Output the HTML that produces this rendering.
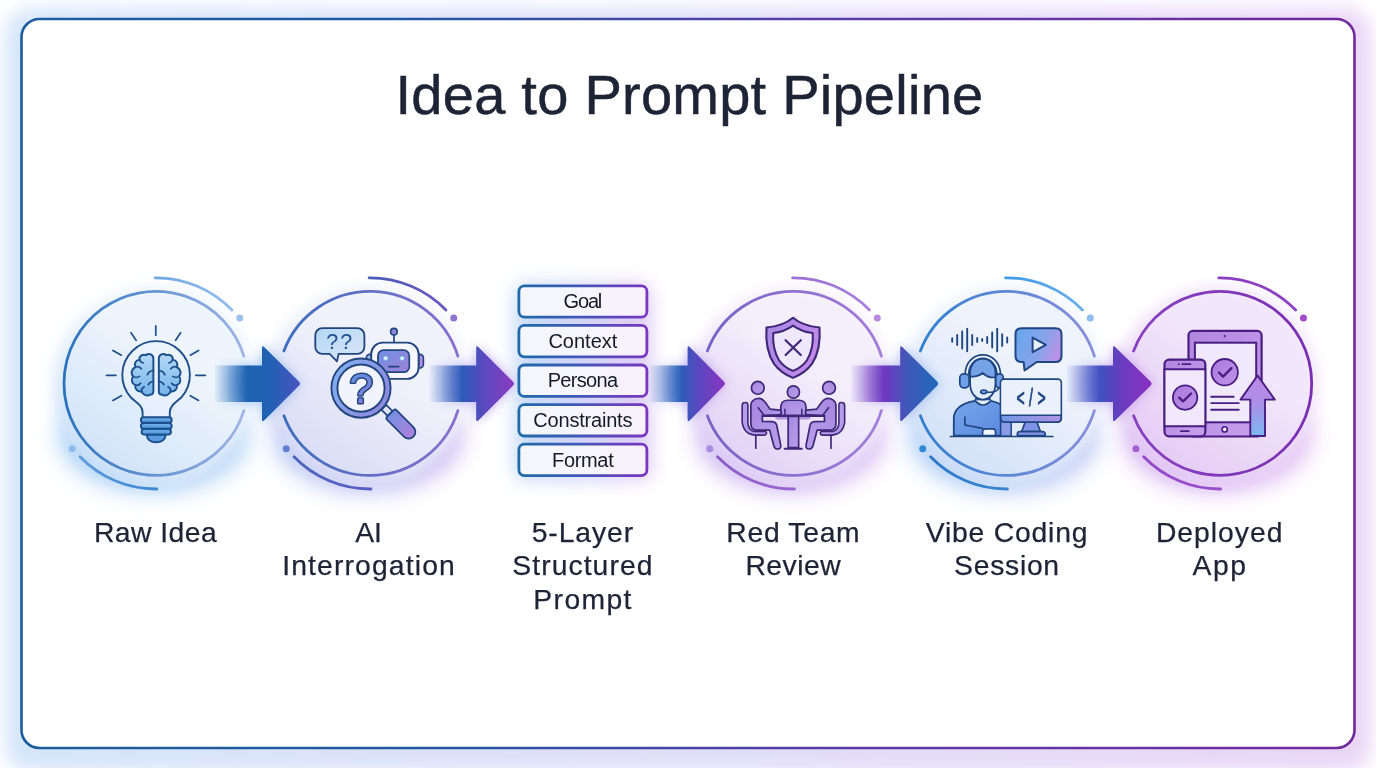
<!DOCTYPE html>
<html lang="en"><head><meta charset="utf-8"><title>Idea to Prompt Pipeline</title>
<style>
html,body{margin:0;padding:0;background:#fff;}
body{width:1376px;height:768px;overflow:hidden;font-family:"Liberation Sans",sans-serif;}
svg{display:block}
text{font-family:"Liberation Sans",sans-serif;}
</style></head><body>
<svg width="1376" height="768" viewBox="0 0 1376 768">
<defs>
<filter id="blur12" x="-10%" y="-10%" width="120%" height="120%"><feGaussianBlur stdDeviation="9"/></filter>
<filter id="blur10" x="-30%" y="-30%" width="160%" height="160%"><feGaussianBlur stdDeviation="9"/></filter>
<filter id="blur8" x="-30%" y="-30%" width="160%" height="160%"><feGaussianBlur stdDeviation="7"/></filter>
<filter id="blur6" x="-30%" y="-30%" width="160%" height="160%"><feGaussianBlur stdDeviation="6"/></filter>
<linearGradient id="gFrame" x1="0" x2="1" y1="0" y2="0"><stop offset="0" stop-color="#1b5c9e"/><stop offset="0.3" stop-color="#22579f"/><stop offset="0.6" stop-color="#5a3ca6"/><stop offset="1" stop-color="#702a9c"/></linearGradient>
<linearGradient id="gGlow" x1="0" x2="1" y1="0" y2="0"><stop offset="0" stop-color="#d5e6fa"/><stop offset="0.45" stop-color="#dfe0f8"/><stop offset="1" stop-color="#ead6f6"/></linearGradient>
<linearGradient id="gBox" x1="0" x2="1" y1="0" y2="0"><stop offset="0" stop-color="#1f6aa8"/><stop offset="0.45" stop-color="#3f5ab8"/><stop offset="1" stop-color="#7a36c0"/></linearGradient>
<linearGradient id="gBoxGlow" x1="0" x2="1" y1="0" y2="0"><stop offset="0" stop-color="#b9d4f6"/><stop offset="1" stop-color="#d9c2f5"/></linearGradient>
<!-- circle glow fills -->
<linearGradient id="gr0" gradientUnits="userSpaceOnUse" x1="64" x2="248" y1="0" y2="0"><stop offset="0" stop-color="#2b73bd"/><stop offset="1" stop-color="#a3b6e8"/></linearGradient>
<linearGradient id="gr0d"><stop offset="0" stop-color="#9cc0ee"/><stop offset="1" stop-color="#9cc0ee"/></linearGradient>
<linearGradient id="gr0d2"><stop offset="0" stop-color="#8fbcf0"/><stop offset="1" stop-color="#8fbcf0"/></linearGradient>
<linearGradient id="gr1" gradientUnits="userSpaceOnUse" x1="278" x2="462" y1="0" y2="0"><stop offset="0" stop-color="#3a6fbd"/><stop offset="1" stop-color="#8a6fcf"/></linearGradient>
<linearGradient id="gr1d"><stop offset="0" stop-color="#8f74d2"/><stop offset="1" stop-color="#8f74d2"/></linearGradient>
<linearGradient id="gr1d2"><stop offset="0" stop-color="#5f7fd2"/><stop offset="1" stop-color="#5f7fd2"/></linearGradient>
<linearGradient id="gr3" gradientUnits="userSpaceOnUse" x1="701.5" x2="885.5" y1="0" y2="0"><stop offset="0" stop-color="#7462c4"/><stop offset="1" stop-color="#a67ddb"/></linearGradient>
<linearGradient id="gr3d"><stop offset="0" stop-color="#b78ae0"/><stop offset="1" stop-color="#b78ae0"/></linearGradient>
<linearGradient id="gr3d2"><stop offset="0" stop-color="#a98be0"/><stop offset="1" stop-color="#a98be0"/></linearGradient>
<linearGradient id="gr4" gradientUnits="userSpaceOnUse" x1="914.5" x2="1098.5" y1="0" y2="0"><stop offset="0" stop-color="#2f7fd0"/><stop offset="1" stop-color="#8a8fdc"/></linearGradient>
<linearGradient id="gr4d"><stop offset="0" stop-color="#8fbcf0"/><stop offset="1" stop-color="#8fbcf0"/></linearGradient>
<linearGradient id="gr4d2"><stop offset="0" stop-color="#2f8ad8"/><stop offset="1" stop-color="#2f8ad8"/></linearGradient>
<linearGradient id="gr5" gradientUnits="userSpaceOnUse" x1="1127.7" x2="1311.7" y1="0" y2="0"><stop offset="0" stop-color="#8a42c2"/><stop offset="1" stop-color="#7a2eb2"/></linearGradient>
<linearGradient id="gr5d"><stop offset="0" stop-color="#a24ccc"/><stop offset="1" stop-color="#a24ccc"/></linearGradient>
<linearGradient id="gr5d2"><stop offset="0" stop-color="#a55fd0"/><stop offset="1" stop-color="#a55fd0"/></linearGradient>
<linearGradient id="ag0" gradientUnits="userSpaceOnUse" x1="213.6" x2="300.3" y1="0" y2="0"><stop offset="0" stop-color="#1e63b0"/><stop offset="0.4" stop-color="#1e63b0"/><stop offset="0.65" stop-color="#2060b2"/><stop offset="1" stop-color="#4b55c2"/></linearGradient>
<linearGradient id="af0" gradientUnits="userSpaceOnUse" x1="213.6" x2="247.6" y1="0" y2="0"><stop offset="0" stop-color="#fff" stop-opacity="0"/><stop offset="0.35" stop-color="#fff" stop-opacity="0.3"/><stop offset="1" stop-color="#fff" stop-opacity="1"/></linearGradient>
<mask id="am0" maskUnits="userSpaceOnUse" x="183.6" y="320" width="160" height="130"><rect x="183.6" y="320" width="160" height="130" fill="url(#af0)"/><rect x="247.6" y="320" width="130" height="130" fill="#fff"/></mask>
<linearGradient id="ag1" gradientUnits="userSpaceOnUse" x1="428.6" x2="514.3" y1="0" y2="0"><stop offset="0" stop-color="#2c5ab8"/><stop offset="0.4" stop-color="#2c5ab8"/><stop offset="0.65" stop-color="#5a49c0"/><stop offset="1" stop-color="#8c3ac0"/></linearGradient>
<linearGradient id="af1" gradientUnits="userSpaceOnUse" x1="428.6" x2="462.6" y1="0" y2="0"><stop offset="0" stop-color="#fff" stop-opacity="0"/><stop offset="0.35" stop-color="#fff" stop-opacity="0.3"/><stop offset="1" stop-color="#fff" stop-opacity="1"/></linearGradient>
<mask id="am1" maskUnits="userSpaceOnUse" x="398.6" y="320" width="160" height="130"><rect x="398.6" y="320" width="160" height="130" fill="url(#af1)"/><rect x="462.6" y="320" width="130" height="130" fill="#fff"/></mask>
<linearGradient id="ag2" gradientUnits="userSpaceOnUse" x1="648" x2="725.3" y1="0" y2="0"><stop offset="0" stop-color="#2560b8"/><stop offset="0.4" stop-color="#2560b8"/><stop offset="0.65" stop-color="#5a48c0"/><stop offset="1" stop-color="#8a34c0"/></linearGradient>
<linearGradient id="af2" gradientUnits="userSpaceOnUse" x1="648" x2="682" y1="0" y2="0"><stop offset="0" stop-color="#fff" stop-opacity="0"/><stop offset="0.35" stop-color="#fff" stop-opacity="0.3"/><stop offset="1" stop-color="#fff" stop-opacity="1"/></linearGradient>
<mask id="am2" maskUnits="userSpaceOnUse" x="618" y="320" width="160" height="130"><rect x="618" y="320" width="160" height="130" fill="url(#af2)"/><rect x="682" y="320" width="130" height="130" fill="#fff"/></mask>
<linearGradient id="ag3" gradientUnits="userSpaceOnUse" x1="850" x2="938.6" y1="0" y2="0"><stop offset="0" stop-color="#7038c0"/><stop offset="0.4" stop-color="#7038c0"/><stop offset="0.65" stop-color="#3f58b8"/><stop offset="1" stop-color="#1f6ab8"/></linearGradient>
<linearGradient id="af3" gradientUnits="userSpaceOnUse" x1="850" x2="884" y1="0" y2="0"><stop offset="0" stop-color="#fff" stop-opacity="0"/><stop offset="0.35" stop-color="#fff" stop-opacity="0.3"/><stop offset="1" stop-color="#fff" stop-opacity="1"/></linearGradient>
<mask id="am3" maskUnits="userSpaceOnUse" x="820" y="320" width="160" height="130"><rect x="820" y="320" width="160" height="130" fill="url(#af3)"/><rect x="884" y="320" width="130" height="130" fill="#fff"/></mask>
<linearGradient id="ag4" gradientUnits="userSpaceOnUse" x1="1065.8" x2="1152" y1="0" y2="0"><stop offset="0" stop-color="#3f52c0"/><stop offset="0.4" stop-color="#3f52c0"/><stop offset="0.65" stop-color="#6a3cc0"/><stop offset="1" stop-color="#8a30c0"/></linearGradient>
<linearGradient id="af4" gradientUnits="userSpaceOnUse" x1="1065.8" x2="1099.8" y1="0" y2="0"><stop offset="0" stop-color="#fff" stop-opacity="0"/><stop offset="0.35" stop-color="#fff" stop-opacity="0.3"/><stop offset="1" stop-color="#fff" stop-opacity="1"/></linearGradient>
<mask id="am4" maskUnits="userSpaceOnUse" x="1035.8" y="320" width="160" height="130"><rect x="1035.8" y="320" width="160" height="130" fill="url(#af4)"/><rect x="1099.8" y="320" width="130" height="130" fill="#fff"/></mask>
<filter id="blur1" x="-5%" y="-5%" width="110%" height="110%"><feGaussianBlur stdDeviation="1.2"/></filter>
<filter id="blur14" x="-40%" y="-60%" width="180%" height="220%"><feGaussianBlur stdDeviation="12"/></filter>
<linearGradient id="gi0" x1="0.85" x2="0.25" y1="0.1" y2="0.95"><stop offset="0" stop-color="#edf4fc"/><stop offset="0.35" stop-color="#edf4fc"/><stop offset="1" stop-color="#cfe2f8"/></linearGradient>
<linearGradient id="gi1" x1="0.85" x2="0.25" y1="0.1" y2="0.95"><stop offset="0" stop-color="#f0f2fb"/><stop offset="0.35" stop-color="#f0f2fb"/><stop offset="1" stop-color="#d9dbf5"/></linearGradient>
<linearGradient id="gi3" x1="0.85" x2="0.25" y1="0.1" y2="0.95"><stop offset="0" stop-color="#f4effb"/><stop offset="0.35" stop-color="#f4effb"/><stop offset="1" stop-color="#e0d0f5"/></linearGradient>
<linearGradient id="gi4" x1="0.85" x2="0.25" y1="0.1" y2="0.95"><stop offset="0" stop-color="#eef3fc"/><stop offset="0.35" stop-color="#eef3fc"/><stop offset="1" stop-color="#d0dff7"/></linearGradient>
<linearGradient id="gi5" x1="0.85" x2="0.25" y1="0.1" y2="0.95"><stop offset="0" stop-color="#f2e6fa"/><stop offset="0.35" stop-color="#f2e6fa"/><stop offset="1" stop-color="#e3caf4"/></linearGradient>
<linearGradient id="gg0" x1="0" x2="1" y1="0" y2="0"><stop offset="0" stop-color="#98c6f5"/><stop offset="1" stop-color="#a4ccf6"/></linearGradient>
<linearGradient id="gg1" x1="0" x2="1" y1="0" y2="0"><stop offset="0" stop-color="#a8c0f3"/><stop offset="1" stop-color="#c6acf0"/></linearGradient>
<linearGradient id="gg3" x1="0" x2="1" y1="0" y2="0"><stop offset="0" stop-color="#c4aef0"/><stop offset="1" stop-color="#d4b2f1"/></linearGradient>
<linearGradient id="gg4" x1="0" x2="1" y1="0" y2="0"><stop offset="0" stop-color="#9cc6f5"/><stop offset="1" stop-color="#b4bef3"/></linearGradient>
<linearGradient id="gg5" x1="0" x2="1" y1="0" y2="0"><stop offset="0" stop-color="#d2acf0"/><stop offset="1" stop-color="#deb2f1"/></linearGradient>
<linearGradient id="agl0" gradientUnits="userSpaceOnUse" x1="213.6" x2="300.3" y1="0" y2="0"><stop offset="0" stop-color="#8cc0f4"/><stop offset="1" stop-color="#9ab8f2"/></linearGradient>
<linearGradient id="agl1" gradientUnits="userSpaceOnUse" x1="428.6" x2="514.3" y1="0" y2="0"><stop offset="0" stop-color="#a0b4f2"/><stop offset="1" stop-color="#c89cee"/></linearGradient>
<linearGradient id="agl2" gradientUnits="userSpaceOnUse" x1="648" x2="725.3" y1="0" y2="0"><stop offset="0" stop-color="#a2b4f2"/><stop offset="1" stop-color="#cc9cee"/></linearGradient>
<linearGradient id="agl3" gradientUnits="userSpaceOnUse" x1="850" x2="938.6" y1="0" y2="0"><stop offset="0" stop-color="#c4a0ee"/><stop offset="1" stop-color="#90bcf2"/></linearGradient>
<linearGradient id="agl4" gradientUnits="userSpaceOnUse" x1="1065.8" x2="1152" y1="0" y2="0"><stop offset="0" stop-color="#a8acf0"/><stop offset="1" stop-color="#d098ec"/></linearGradient>
<linearGradient id="gBoxFill" x1="0" x2="1" y1="0" y2="0"><stop offset="0" stop-color="#f3f7fd"/><stop offset="0.5" stop-color="#f6f5fc"/><stop offset="1" stop-color="#f8f1fc"/></linearGradient>
<linearGradient id="gr0o" gradientUnits="userSpaceOnUse" x1="156" x2="234" y1="0" y2="0"><stop offset="0" stop-color="#6fa8e4"/><stop offset="1" stop-color="#93beee"/></linearGradient>
<linearGradient id="gr0o2" gradientUnits="userSpaceOnUse" x1="78" x2="156" y1="0" y2="0"><stop offset="0" stop-color="#5f9cdc"/><stop offset="1" stop-color="#3f88d4"/></linearGradient>
<linearGradient id="gr1o" gradientUnits="userSpaceOnUse" x1="370" x2="448" y1="0" y2="0"><stop offset="0" stop-color="#4a5cb8"/><stop offset="1" stop-color="#6c58c2"/></linearGradient>
<linearGradient id="gr1o2" gradientUnits="userSpaceOnUse" x1="292" x2="370" y1="0" y2="0"><stop offset="0" stop-color="#4a64bc"/><stop offset="1" stop-color="#5a5ec4"/></linearGradient>
<linearGradient id="gr3o" gradientUnits="userSpaceOnUse" x1="793.5" x2="871.5" y1="0" y2="0"><stop offset="0" stop-color="#9a70d4"/><stop offset="1" stop-color="#aa82de"/></linearGradient>
<linearGradient id="gr3o2" gradientUnits="userSpaceOnUse" x1="715.5" x2="793.5" y1="0" y2="0"><stop offset="0" stop-color="#8a5cc8"/><stop offset="1" stop-color="#9a68d0"/></linearGradient>
<linearGradient id="gr4o" gradientUnits="userSpaceOnUse" x1="1006.5" x2="1084.5" y1="0" y2="0"><stop offset="0" stop-color="#3f98e6"/><stop offset="1" stop-color="#6cb0ee"/></linearGradient>
<linearGradient id="gr4o2" gradientUnits="userSpaceOnUse" x1="928.5" x2="1006.5" y1="0" y2="0"><stop offset="0" stop-color="#2a78c8"/><stop offset="1" stop-color="#3a86d2"/></linearGradient>
<linearGradient id="gr5o" gradientUnits="userSpaceOnUse" x1="1219.7" x2="1297.7" y1="0" y2="0"><stop offset="0" stop-color="#8a3cc0"/><stop offset="1" stop-color="#9042c4"/></linearGradient>
<linearGradient id="gr5o2" gradientUnits="userSpaceOnUse" x1="1141.7" x2="1219.7" y1="0" y2="0"><stop offset="0" stop-color="#9448c8"/><stop offset="1" stop-color="#9a50cc"/></linearGradient>
</defs>
<g opacity="0.999">
<rect width="1376" height="768" fill="#fff"/>
<rect x="5" y="8" width="1366" height="764" rx="26" fill="url(#gGlow)" filter="url(#blur12)"/>
<rect x="21.5" y="19" width="1333" height="729" rx="18" fill="#fff" stroke="url(#gFrame)" stroke-width="2.6"/>
<text x="689.5" y="113.5" text-anchor="middle" font-size="56" letter-spacing="0.25" fill="#1d2436" stroke="#1d2436" stroke-width="0.5" id="title">Idea to Prompt Pipeline</text>
<ellipse cx="154" cy="435.4" rx="93" ry="55" fill="url(#gg0)" filter="url(#blur14)" opacity="0.95"/>
<circle cx="154" cy="386.4" r="101" fill="url(#gi0)" filter="url(#blur8)"/>
<ellipse cx="368" cy="435.4" rx="93" ry="55" fill="url(#gg1)" filter="url(#blur14)" opacity="0.95"/>
<circle cx="368" cy="386.4" r="101" fill="url(#gi1)" filter="url(#blur8)"/>
<ellipse cx="791.5" cy="435.4" rx="93" ry="55" fill="url(#gg3)" filter="url(#blur14)" opacity="0.95"/>
<circle cx="791.5" cy="386.4" r="101" fill="url(#gi3)" filter="url(#blur8)"/>
<ellipse cx="1004.5" cy="435.4" rx="93" ry="55" fill="url(#gg4)" filter="url(#blur14)" opacity="0.95"/>
<circle cx="1004.5" cy="386.4" r="101" fill="url(#gi4)" filter="url(#blur8)"/>
<ellipse cx="1217.7" cy="435.4" rx="93" ry="55" fill="url(#gg5)" filter="url(#blur14)" opacity="0.95"/>
<circle cx="1217.7" cy="386.4" r="101" fill="url(#gi5)" filter="url(#blur8)"/>
<rect x="514" y="283" width="138" height="198" rx="12" fill="url(#gBoxGlow)" filter="url(#blur10)" opacity="0.8"/>
<path d="M243.89 410.61A92 92 0 1 1 243.89 356.19" fill="none" stroke="url(#gr0)" stroke-width="2.8" stroke-linecap="round"/>
<path d="M155.08 277.80A105.6 105.6 0 0 1 231.96 310.04" fill="none" stroke="url(#gr0o)" stroke-width="2.8" stroke-linecap="round"/>
<path d="M156.92 489.00A105.6 105.6 0 0 1 80.04 456.76" fill="none" stroke="url(#gr0o2)" stroke-width="2.8" stroke-linecap="round"/>
<circle cx="239.77" cy="317.96" r="3.5" fill="url(#gr0d)"/>
<circle cx="72.23" cy="448.84" r="3.5" fill="url(#gr0d2)"/>
<path d="M283.88 351.03A92 92 0 0 1 457.89 356.19" fill="none" stroke="url(#gr1)" stroke-width="2.8" stroke-linecap="round"/>
<path d="M457.89 410.61A92 92 0 0 1 283.88 415.77" fill="none" stroke="url(#gr1)" stroke-width="2.8" stroke-linecap="round"/>
<path d="M369.08 277.80A105.6 105.6 0 0 1 445.96 310.04" fill="none" stroke="url(#gr1o)" stroke-width="2.8" stroke-linecap="round"/>
<path d="M370.92 489.00A105.6 105.6 0 0 1 294.04 456.76" fill="none" stroke="url(#gr1o2)" stroke-width="2.8" stroke-linecap="round"/>
<circle cx="453.77" cy="317.96" r="3.5" fill="url(#gr1d)"/>
<circle cx="286.23" cy="448.84" r="3.5" fill="url(#gr1d2)"/>
<path d="M707.38 351.03A92 92 0 0 1 881.39 356.19" fill="none" stroke="url(#gr3)" stroke-width="2.8" stroke-linecap="round"/>
<path d="M881.39 410.61A92 92 0 0 1 707.38 415.77" fill="none" stroke="url(#gr3)" stroke-width="2.8" stroke-linecap="round"/>
<path d="M792.58 277.80A105.6 105.6 0 0 1 869.46 310.04" fill="none" stroke="url(#gr3o)" stroke-width="2.8" stroke-linecap="round"/>
<path d="M794.42 489.00A105.6 105.6 0 0 1 717.54 456.76" fill="none" stroke="url(#gr3o2)" stroke-width="2.8" stroke-linecap="round"/>
<circle cx="877.27" cy="317.96" r="3.5" fill="url(#gr3d)"/>
<circle cx="709.73" cy="448.84" r="3.5" fill="url(#gr3d2)"/>
<path d="M920.38 351.03A92 92 0 0 1 1094.39 356.19" fill="none" stroke="url(#gr4)" stroke-width="2.8" stroke-linecap="round"/>
<path d="M1094.39 410.61A92 92 0 0 1 920.38 415.77" fill="none" stroke="url(#gr4)" stroke-width="2.8" stroke-linecap="round"/>
<path d="M1005.58 277.80A105.6 105.6 0 0 1 1082.46 310.04" fill="none" stroke="url(#gr4o)" stroke-width="2.8" stroke-linecap="round"/>
<path d="M1007.42 489.00A105.6 105.6 0 0 1 930.54 456.76" fill="none" stroke="url(#gr4o2)" stroke-width="2.8" stroke-linecap="round"/>
<circle cx="1090.27" cy="317.96" r="3.5" fill="url(#gr4d)"/>
<circle cx="922.73" cy="448.84" r="3.5" fill="url(#gr4d2)"/>
<path d="M1133.58 351.03A92 92 0 1 1 1133.58 415.77" fill="none" stroke="url(#gr5)" stroke-width="2.8" stroke-linecap="round"/>
<path d="M1218.78 277.80A105.6 105.6 0 0 1 1295.66 310.04" fill="none" stroke="url(#gr5o)" stroke-width="2.8" stroke-linecap="round"/>
<path d="M1220.62 489.00A105.6 105.6 0 0 1 1143.74 456.76" fill="none" stroke="url(#gr5o2)" stroke-width="2.8" stroke-linecap="round"/>
<circle cx="1303.47" cy="317.96" r="3.5" fill="url(#gr5d)"/>
<circle cx="1135.93" cy="448.84" r="3.5" fill="url(#gr5d2)"/>
<g mask="url(#am0)"><path d="M213.6 365.6H262V348.0Q262 344.8 264.6 347.4L299.1 381.79999999999995Q300.90000000000003 383.7 299.1 385.59999999999997L264.6 420.1Q262 422.7 262 419.5V402.0H213.6Z" fill="url(#agl0)" filter="url(#blur6)" opacity="0.9"/></g>
<g mask="url(#am0)"><path d="M213.6 365.6H262V348.0Q262 344.8 264.6 347.4L299.1 381.79999999999995Q300.90000000000003 383.7 299.1 385.59999999999997L264.6 420.1Q262 422.7 262 419.5V402.0H213.6Z" fill="url(#ag0)"/></g>
<g mask="url(#am1)"><path d="M428.6 365.6H476.2V348.0Q476.2 344.8 478.8 347.4L513.0999999999999 381.79999999999995Q514.9 383.7 513.0999999999999 385.59999999999997L478.8 420.1Q476.2 422.7 476.2 419.5V402.0H428.6Z" fill="url(#agl1)" filter="url(#blur6)" opacity="0.9"/></g>
<g mask="url(#am1)"><path d="M428.6 365.6H476.2V348.0Q476.2 344.8 478.8 347.4L513.0999999999999 381.79999999999995Q514.9 383.7 513.0999999999999 385.59999999999997L478.8 420.1Q476.2 422.7 476.2 419.5V402.0H428.6Z" fill="url(#ag1)"/></g>
<g mask="url(#am2)"><path d="M648 365.6H687.6V348.0Q687.6 344.8 690.2 347.4L724.0999999999999 381.79999999999995Q725.9 383.7 724.0999999999999 385.59999999999997L690.2 420.1Q687.6 422.7 687.6 419.5V402.0H648Z" fill="url(#agl2)" filter="url(#blur6)" opacity="0.9"/></g>
<g mask="url(#am2)"><path d="M648 365.6H687.6V348.0Q687.6 344.8 690.2 347.4L724.0999999999999 381.79999999999995Q725.9 383.7 724.0999999999999 385.59999999999997L690.2 420.1Q687.6 422.7 687.6 419.5V402.0H648Z" fill="url(#ag2)"/></g>
<g mask="url(#am3)"><path d="M850 365.6H900.2V348.0Q900.2 344.8 902.8000000000001 347.4L937.4 381.79999999999995Q939.2 383.7 937.4 385.59999999999997L902.8000000000001 420.1Q900.2 422.7 900.2 419.5V402.0H850Z" fill="url(#agl3)" filter="url(#blur6)" opacity="0.9"/></g>
<g mask="url(#am3)"><path d="M850 365.6H900.2V348.0Q900.2 344.8 902.8000000000001 347.4L937.4 381.79999999999995Q939.2 383.7 937.4 385.59999999999997L902.8000000000001 420.1Q900.2 422.7 900.2 419.5V402.0H850Z" fill="url(#ag3)"/></g>
<g mask="url(#am4)"><path d="M1065.8 365.6H1113V348.0Q1113 344.8 1115.6 347.4L1150.8 381.79999999999995Q1152.6 383.7 1150.8 385.59999999999997L1115.6 420.1Q1113 422.7 1113 419.5V402.0H1065.8Z" fill="url(#agl4)" filter="url(#blur6)" opacity="0.9"/></g>
<g mask="url(#am4)"><path d="M1065.8 365.6H1113V348.0Q1113 344.8 1115.6 347.4L1150.8 381.79999999999995Q1152.6 383.7 1150.8 385.59999999999997L1115.6 420.1Q1113 422.7 1113 419.5V402.0H1065.8Z" fill="url(#ag4)"/></g>
<rect x="518.9" y="285.8" width="128" height="31.4" rx="5.5" fill="url(#gBoxFill)" stroke="url(#gBox)" stroke-width="2.8"/>
<text x="582.33" y="308.1" text-anchor="middle" font-size="20" letter-spacing="-1.14" fill="#161a26">Goal</text>
<rect x="518.9" y="325.4" width="128" height="31.4" rx="5.5" fill="url(#gBoxFill)" stroke="url(#gBox)" stroke-width="2.8"/>
<text x="582.90" y="347.7" text-anchor="middle" font-size="20" letter-spacing="0.01" fill="#161a26">Context</text>
<rect x="518.9" y="365.0" width="128" height="31.4" rx="5.5" fill="url(#gBoxFill)" stroke="url(#gBox)" stroke-width="2.8"/>
<text x="582.55" y="387.3" text-anchor="middle" font-size="20" letter-spacing="-0.69" fill="#161a26">Persona</text>
<rect x="518.9" y="404.6" width="128" height="31.4" rx="5.5" fill="url(#gBoxFill)" stroke="url(#gBox)" stroke-width="2.8"/>
<text x="582.79" y="426.9" text-anchor="middle" font-size="20" letter-spacing="-0.21" fill="#161a26">Constraints</text>
<rect x="518.9" y="444.2" width="128" height="31.4" rx="5.5" fill="url(#gBoxFill)" stroke="url(#gBox)" stroke-width="2.8"/>
<text x="582.73" y="466.5" text-anchor="middle" font-size="20" letter-spacing="-0.34" fill="#161a26">Format</text>
<g id="icon1">
<defs>
<linearGradient id="i1brain" x1="0" x2="0" y1="0" y2="1"><stop offset="0" stop-color="#b4d9f6"/><stop offset="1" stop-color="#74b4ea"/></linearGradient>
<linearGradient id="i1base" x1="0" x2="0" y1="0" y2="1"><stop offset="0" stop-color="#7ab6ec"/><stop offset="1" stop-color="#4a92dc"/></linearGradient>
</defs>
<path d="M155.8 325.9L155.8 335.2M131 332.7L136.1 340.3M180.6 332.7L175.6 340.3M112.9 350.5L121.4 355.2M198.6 350.5L190.3 355.2M106.5 375.3L116 375.3M195.8 375.3L205.4 375.3M112.9 400.4L121.4 395.7M198.6 400.4L190.3 395.7" stroke="#1d4f8b" stroke-width="1.7" stroke-linecap="round" fill="none"/>
<path d="M142.6 417.6V412.6C142.6 405.6 136.4 402.4 131.2 397.8A33.8 33.8 0 1 1 181 397.8C175.8 402.4 169.8 405.6 169.8 412.6V417.6" fill="#e9f3fd" fill-opacity="0.55" stroke="#1d4f8b" stroke-width="1.9" stroke-linecap="round"/>
<g transform="translate(131,0) scale(1.035,1) translate(-131,0)"><path d="M152.6 358.6 C152.6 354.6 148.2 352.6 145.4 355.2 C142.2 353.8 138.6 356.2 139.2 359.6 C135.4 360.0 133.6 364.0 135.4 367.0 C131.6 368.6 130.4 373.6 133.2 376.4 C130.6 379.0 131.6 383.8 135.2 385.2 C134.4 389.0 137.6 392.2 141.2 391.4 C142.4 395.0 146.6 396.6 149.6 394.6 C151.6 394.6 152.6 393.0 152.6 391.4 Z" fill="url(#i1brain)" stroke="#1d4f8b" stroke-width="1.9" stroke-linejoin="round"/><path d="M139.2 359.6 C139.8 361.6 141.2 362.8 143.0 363.0 M135.4 367.0 C137.6 366.2 139.8 367.0 141.0 368.8 M133.2 376.4 C135.0 377.6 137.4 377.6 139.2 376.4 M152.6 370.6 C150.0 370.8 147.8 372.2 146.8 374.6 M135.2 385.2 C137.0 385.6 139.2 384.8 140.2 383.2 M141.2 391.4 C141.0 389.4 142.0 387.6 143.8 386.8 M152.6 381.6 C150.6 381.6 148.6 382.8 147.8 384.6" fill="none" stroke="#1d4f8b" stroke-width="1.7" stroke-linecap="round"/></g><g transform="translate(312.2,0) scale(-1,1) translate(131,0) scale(1.035,1) translate(-131,0)"><path d="M152.6 358.6 C152.6 354.6 148.2 352.6 145.4 355.2 C142.2 353.8 138.6 356.2 139.2 359.6 C135.4 360.0 133.6 364.0 135.4 367.0 C131.6 368.6 130.4 373.6 133.2 376.4 C130.6 379.0 131.6 383.8 135.2 385.2 C134.4 389.0 137.6 392.2 141.2 391.4 C142.4 395.0 146.6 396.6 149.6 394.6 C151.6 394.6 152.6 393.0 152.6 391.4 Z" fill="url(#i1brain)" stroke="#1d4f8b" stroke-width="1.9" stroke-linejoin="round"/><path d="M139.2 359.6 C139.8 361.6 141.2 362.8 143.0 363.0 M135.4 367.0 C137.6 366.2 139.8 367.0 141.0 368.8 M133.2 376.4 C135.0 377.6 137.4 377.6 139.2 376.4 M152.6 370.6 C150.0 370.8 147.8 372.2 146.8 374.6 M135.2 385.2 C137.0 385.6 139.2 384.8 140.2 383.2 M141.2 391.4 C141.0 389.4 142.0 387.6 143.8 386.8 M152.6 381.6 C150.6 381.6 148.6 382.8 147.8 384.6" fill="none" stroke="#1d4f8b" stroke-width="1.7" stroke-linecap="round"/></g>
<rect x="140.9" y="417.2" width="30.8" height="5.6" rx="2.8" fill="url(#i1base)" stroke="#1d4f8b" stroke-width="1.9"/>
<rect x="140.9" y="423.1" width="30.8" height="5.6" rx="2.8" fill="url(#i1base)" stroke="#1d4f8b" stroke-width="1.9"/>
<rect x="141.6" y="429.0" width="29.4" height="5.6" rx="2.8" fill="url(#i1base)" stroke="#1d4f8b" stroke-width="1.9"/>
<path d="M146.6 434.8H165.8Q164.6 442.2 156.2 442.2Q147.8 442.2 146.6 434.8Z" fill="#5a9be2" stroke="#1d4f8b" stroke-width="1.9" stroke-linejoin="round"/>
</g>
<g id="icon2">
<defs>
<linearGradient id="i2bub" x1="0" x2="1" y1="0" y2="1"><stop offset="0" stop-color="#b4d8f4"/><stop offset="1" stop-color="#d9e6f8"/></linearGradient>
<linearGradient id="i2face" x1="0" x2="1" y1="0" y2="1"><stop offset="0" stop-color="#6d8fe2"/><stop offset="1" stop-color="#a182da"/></linearGradient>
<linearGradient id="i2ring" gradientUnits="userSpaceOnUse" x1="331" x2="392" y1="370" y2="405"><stop offset="0" stop-color="#7fb0ee"/><stop offset="1" stop-color="#9086dc"/></linearGradient>
<linearGradient id="i2q" gradientUnits="userSpaceOnUse" x1="350" x2="372" y1="372" y2="404"><stop offset="0" stop-color="#5f93e2"/><stop offset="1" stop-color="#8a7cd8"/></linearGradient>
<linearGradient id="i2hand" gradientUnits="userSpaceOnUse" x1="388" x2="412" y1="413" y2="437"><stop offset="0" stop-color="#7490e2"/><stop offset="1" stop-color="#ad80dc"/></linearGradient>
</defs>
<!-- speech bubble -->
<path d="M322.3 328.2H357.4A7 7 0 0 1 364.4 335.2V346.9A7 7 0 0 1 357.4 353.9H338.6L337 361.4L329.6 353.9H322.3A7 7 0 0 1 315.3 346.9V335.2A7 7 0 0 1 322.3 328.2Z" fill="url(#i2bub)" stroke="#22457f" stroke-width="1.8" stroke-linejoin="round"/>
<text x="340.3" y="349.2" text-anchor="middle" font-size="21.5" letter-spacing="2" fill="#21508f">??</text>
<!-- robot -->
<line x1="394" y1="334.4" x2="394" y2="342.5" stroke="#22457f" stroke-width="1.7"/>
<circle cx="393.9" cy="331.7" r="3.3" fill="#8f88da" stroke="#22457f" stroke-width="1.6"/>
<path d="M418.6 354.4H420A3.4 3.4 0 0 1 423.4 357.8V364.6A3.4 3.4 0 0 1 420 368H418.6Z" fill="#b68ce2" stroke="#22457f" stroke-width="1.6" stroke-linejoin="round"/>
<path d="M371.4 354.4H369.8A3.4 3.4 0 0 0 366.4 357.8V364.6A3.4 3.4 0 0 0 369.8 368H371.4Z" fill="#a8c4f0" stroke="#22457f" stroke-width="1.6" stroke-linejoin="round"/>
<rect x="371.2" y="342.6" width="47.4" height="36.3" rx="11.5" fill="#f6f8fd" stroke="#22457f" stroke-width="1.9"/>
<rect x="377.9" y="350.2" width="31.4" height="22" rx="5.5" fill="url(#i2face)" stroke="#22457f" stroke-width="1.7"/>
<circle cx="385.6" cy="358.3" r="2.0" fill="#e9fbff" stroke="#7fd0f0" stroke-width="0.8"/>
<circle cx="402.1" cy="358.3" r="2.0" fill="#e9fbff" stroke="#7fd0f0" stroke-width="0.8"/>
<line x1="388.9" y1="366.6" x2="398.8" y2="366.6" stroke="#22457f" stroke-width="1.7" stroke-linecap="round"/>
<!-- magnifier handle -->
<path d="M381.4 409.6L386.2 404.8L392.4 411L387.6 415.8Z" fill="#dfe6f8" stroke="#22457f" stroke-width="1.7" stroke-linejoin="round"/>
<path d="M387.0 416.8L393.6 410.2A2 2 0 0 1 396.4 410.2L413.4 427.2A6.7 6.7 0 0 1 403.9 436.7L387.0 419.6A2 2 0 0 1 387.0 416.8Z" fill="url(#i2hand)" stroke="#22457f" stroke-width="1.8" stroke-linejoin="round"/>
<!-- magnifier ring -->
<circle cx="361" cy="388.1" r="29.6" fill="url(#i2ring)" stroke="#22457f" stroke-width="1.9"/>
<circle cx="361" cy="388.1" r="23.6" fill="#f1f4fc" stroke="#22457f" stroke-width="1.9"/>
<text x="361.2" y="402.9" text-anchor="middle" font-size="43" fill="url(#i2q)" stroke="#22457f" stroke-width="3.0" stroke-linejoin="round" paint-order="stroke fill">?</text>
</g>
<g id="icon4">
<defs>
<linearGradient id="i4p" x1="0" x2="1" y1="0" y2="1"><stop offset="0" stop-color="#a487de"/><stop offset="1" stop-color="#bb9fea"/></linearGradient>
<linearGradient id="i4s" x1="0" x2="1" y1="0" y2="0.4"><stop offset="0" stop-color="#a88ae6"/><stop offset="1" stop-color="#c28ae8"/></linearGradient>
</defs>
<path d="M793.0 317.8C786.6 323.2 776.8 326.7 766.5 327.5C765.5 341.2 767.0 352.9 773.9 363.6C779.1 370.9 786.6 375.3 793.0 377.9C799.4 375.3 806.9 370.9 812.1 363.6C819.0 352.9 820.5 341.2 819.5 327.5C809.2 326.7 799.4 323.2 793.0 317.8Z" fill="url(#i4s)" stroke="#3f2878" stroke-width="2.1" stroke-linejoin="round"/>
<path d="M793.0 325.6C787.5 329.5 780.7 332.2 773.3 333.0C772.5 343.1 774.1 351.9 779.1 360.3C783.0 365.8 788.1 368.9 793.0 370.9C797.9 368.9 803.0 365.8 806.9 360.3C811.9 351.9 813.5 343.1 812.7 333.0C805.3 332.2 798.5 329.5 793.0 325.6Z" fill="#efe7fb" stroke="#3f2878" stroke-width="2.0" stroke-linejoin="round"/>
<path d="M785.6 340.2L800.8 355.0M800.8 340.2L785.6 355.0" stroke="#3f2878" stroke-width="2.2" stroke-linecap="round" fill="none"/>
<path d="M780.74 415.38V407.66Q780.74 400.74 787.47 400.24H799.34Q806.07 400.74 806.07 407.66V415.38Z" fill="url(#i4p)" stroke="#3f2878" stroke-width="1.7" stroke-linejoin="round"/>
<path d="M784.90 409.15V414.79M801.82 409.15V414.79" stroke="#3f2878" stroke-width="1.5" stroke-linecap="round" fill="none"/>
<circle cx="793.41" cy="392.03" r="6.1" fill="url(#i4p)" stroke="#3f2878" stroke-width="1.7"/>
<path d="M774.81 416.57H811.22Q810.72 419.53 807.26 419.53H778.57Q775.10 419.53 774.81 416.57Z" fill="#b294e4"/>
<path d="M788.16 416.37H798.65V447.63H788.16Z" fill="url(#i4p)" stroke="#3f2878" stroke-width="1.7" stroke-linejoin="round"/>
<path d="M784.70 448.72H801.82" stroke="#3f2878" stroke-width="2" stroke-linecap="round"/>
<path d="M744.93 402.52Q747.89 401.92 747.89 405.19L747.89 422.50Q747.89 429.43 753.83 431.41L764.71 431.41Q766.69 431.61 766.50 433.39Q766.30 435.17 764.22 435.17L754.82 435.17Q743.94 434.38 742.16 422.50L742.16 405.68Q742.16 402.71 744.93 402.52Z" fill="#b79cea" stroke="#3f2878" stroke-width="1.6" stroke-linejoin="round"/><path d="M755.81 435.36V448.23" fill="none" stroke="#3f2878" stroke-width="1.7" stroke-linecap="round"/><path d="M750.86 405.68C750.86 400.24 755.81 397.96 760.26 398.56C763.23 398.95 765.21 401.92 767.68 405.68L770.16 409.15L779.56 410.13Q781.53 410.43 781.34 412.61Q781.14 414.79 779.06 414.79L763.92 415.38L762.34 415.58L762.34 421.51L772.13 421.71Q776.09 422.01 776.79 425.47L780.74 445.26Q781.14 448.82 777.77 449.02Q774.81 449.02 773.82 445.75L769.66 430.22L756.80 430.22Q750.86 429.92 750.86 423.49Z" fill="url(#i4p)" stroke="#3f2878" stroke-width="1.7" stroke-linejoin="round"/><path d="M758.28 407.66L763.92 415.18" fill="none" stroke="#3f2878" stroke-width="1.6" stroke-linecap="round"/><circle cx="757.79" cy="387.87" r="6.4" fill="url(#i4p)" stroke="#3f2878" stroke-width="1.7"/>
<g transform="translate(1586.81,0) scale(-1,1)"><path d="M744.93 402.52Q747.89 401.92 747.89 405.19L747.89 422.50Q747.89 429.43 753.83 431.41L764.71 431.41Q766.69 431.61 766.50 433.39Q766.30 435.17 764.22 435.17L754.82 435.17Q743.94 434.38 742.16 422.50L742.16 405.68Q742.16 402.71 744.93 402.52Z" fill="#b79cea" stroke="#3f2878" stroke-width="1.6" stroke-linejoin="round"/><path d="M755.81 435.36V448.23" fill="none" stroke="#3f2878" stroke-width="1.7" stroke-linecap="round"/><path d="M750.86 405.68C750.86 400.24 755.81 397.96 760.26 398.56C763.23 398.95 765.21 401.92 767.68 405.68L770.16 409.15L779.56 410.13Q781.53 410.43 781.34 412.61Q781.14 414.79 779.06 414.79L763.92 415.38L762.34 415.58L762.34 421.51L772.13 421.71Q776.09 422.01 776.79 425.47L780.74 445.26Q781.14 448.82 777.77 449.02Q774.81 449.02 773.82 445.75L769.66 430.22L756.80 430.22Q750.86 429.92 750.86 423.49Z" fill="url(#i4p)" stroke="#3f2878" stroke-width="1.7" stroke-linejoin="round"/><path d="M758.28 407.66L763.92 415.18" fill="none" stroke="#3f2878" stroke-width="1.6" stroke-linecap="round"/><circle cx="757.79" cy="387.87" r="6.4" fill="url(#i4p)" stroke="#3f2878" stroke-width="1.7"/></g>
<path d="M762.74 415.97H824.08" stroke="#3f2878" stroke-width="1.9" stroke-linecap="round"/>
</g>
<g id="icon5">
<defs>
<linearGradient id="i5bub" x1="0" x2="1" y1="0.3" y2="0.7"><stop offset="0" stop-color="#6aa6ec"/><stop offset="0.5" stop-color="#86a4ea"/><stop offset="1" stop-color="#c48ee6"/></linearGradient>
<linearGradient id="i5body" x1="0" x2="1" y1="0" y2="1"><stop offset="0" stop-color="#79a8ea"/><stop offset="1" stop-color="#5a88e0"/></linearGradient>
<linearGradient id="i5chin" x1="0" x2="1" y1="0" y2="0"><stop offset="0" stop-color="#6f96e6"/><stop offset="1" stop-color="#b294e4"/></linearGradient>
</defs>
<path d="M952.2 338.3V341.7M957.2 334.9V345.1M962.2 331.4V348.6M967.2 328.7V351.3M972.2 334.9V345.1M977.2 338.0V342.0M982.2 339.0V341.0M987.2 337.0V343.0M992.2 332.4V347.6M997.2 328.7V351.3M1002.2 334.1V345.9M1007.2 337.5V342.5" stroke="#1f4680" stroke-width="1.9" stroke-linecap="round" fill="none"/>
<!-- play bubble -->
<path d="M1021.6 328.2H1055.4Q1061.5 328.2 1061.5 334.2V355.9Q1061.5 362.0 1055.4 362.0H1036.8L1024.6 370.5L1023.6 362.0H1021.6Q1015.5 362.0 1015.5 355.9V334.2Q1015.5 328.2 1021.6 328.2Z" fill="url(#i5bub)" stroke="#1f4680" stroke-width="2.0" stroke-linejoin="round"/>
<path d="M1032.6 337.6V352.2L1045.9 344.9Z" fill="#e6effc" stroke="#1f4680" stroke-width="2.0" stroke-linejoin="round"/>
<!-- body -->
<path d="M953.8 435.6V417.9C954.2 409.4 960.6 403.5 975.0 400.9L975.9 398.9H989.7L990.7 400.9C996.2 402.0 999.5 403.5 1001.2 405.2V435.6Z" fill="url(#i5body)" stroke="#1f4680" stroke-width="1.8" stroke-linejoin="round"/>
<path d="M975.2 400.6Q982.6 409.4 991.1 400.6" fill="#eaf2fc" stroke="#1f4680" stroke-width="1.7" stroke-linejoin="round"/>
<path d="M964.9 417.0V425.0L982.6 428.4" fill="none" stroke="#1f4680" stroke-width="1.7" stroke-linecap="round" stroke-linejoin="round"/>
<path d="M982.6 435.6V431.1Q983.0 428.9 985.7 428.9H992.8Q995.5 429.2 995.5 431.7V435.6Z" fill="#f2f6fd" stroke="#1f4680" stroke-width="1.6" stroke-linejoin="round"/>
<!-- head -->
<path d="M970.1 373.9V383.2C970.1 393.3 975.9 399.6 982.8 399.6C989.7 399.6 995.5 393.3 995.5 383.2V373.9Z" fill="#e4eefb" stroke="#1f4680" stroke-width="1.8" stroke-linejoin="round"/>
<path d="M970.1 376.4V373.0C970.1 364.5 975.9 358.6 982.8 358.6C989.7 358.6 995.5 364.5 995.5 373.0V377.2C991.1 378.1 986.3 376.4 982.6 373.0C979.6 375.5 975.2 377.2 970.1 376.4Z" fill="#74a3e8" stroke="#1f4680" stroke-width="1.7" stroke-linejoin="round"/>
<!-- headset -->
<path d="M966.9 374.7C966.9 363.7 974.2 356.6 982.8 356.6C991.4 356.6 998.7 363.7 998.7 374.7" fill="none" stroke="#1f4680" stroke-width="5.3" stroke-linecap="butt"/>
<path d="M966.9 374.7C966.9 363.7 974.2 356.6 982.8 356.6C991.4 356.6 998.7 363.7 998.7 374.7" fill="none" stroke="#eef4fd" stroke-width="1.9" stroke-linecap="butt"/>
<rect x="959.8" y="373.9" width="9.3" height="13.9" rx="4" fill="#6f9fe6" stroke="#1f4680" stroke-width="1.7"/>
<rect x="995.8" y="373.9" width="7.4" height="13.9" rx="3.6" fill="#6f9fe6" stroke="#1f4680" stroke-width="1.7"/>
<path d="M998.7 387.7C997.9 391.1 992.8 392.8 986.3 392.1" fill="none" stroke="#1f4680" stroke-width="1.7" stroke-linecap="round"/>
<ellipse cx="983.8" cy="391.8" rx="3.2" ry="1.9" fill="#6f9fe6" stroke="#1f4680" stroke-width="1.5"/>
<rect x="1000.6" y="421" width="10.6" height="15.2" fill="#8a9ce8" stroke="#1f4680" stroke-width="1.5"/>
<!-- monitor -->
<path d="M1025.3 421.6L1021.6 431.7H1040.5L1036.8 421.6Z" fill="#7f92e6" stroke="#1f4680" stroke-width="1.7" stroke-linejoin="round"/>
<path d="M1017.3 435.6V433.8Q1017.5 431.6 1019.9 431.6H1042.5Q1044.9 431.6 1045.2 433.8V435.6Z" fill="#8a9ae8" stroke="#1f4680" stroke-width="1.7" stroke-linejoin="round"/>
<rect x="1000.6" y="379.3" width="60.6" height="42.8" rx="3.4" fill="url(#i5chin)" stroke="#1f4680" stroke-width="1.9"/>
<path d="M1001.2 415.3V383.2Q1001.2 380.1 1003.9 380.1H1057.8Q1060.5 380.1 1060.5 383.2V415.3Z" fill="#eaf0fc"/>
<path d="M1000.6 415.3H1061.2" stroke="#1f4680" stroke-width="1.6"/>
<text transform="translate(1033.3,405.6) scale(0.7,1.2)" text-anchor="middle" font-size="20" letter-spacing="6.4" fill="#1f4680" stroke="#1f4680" stroke-width="0.8" stroke-linejoin="round">&lt;/&gt;</text>
<path d="M950.5 436.5H1052.9" stroke="#1f4680" stroke-width="1.7" stroke-linecap="round"/>
</g>
<g id="icon6">
<defs>
<linearGradient id="i6d" x1="0" x2="1" y1="0" y2="1"><stop offset="0" stop-color="#b186e0"/><stop offset="1" stop-color="#c7a0ec"/></linearGradient>
<linearGradient id="i6c" x1="0" x2="1" y1="0" y2="1"><stop offset="0" stop-color="#a878dc"/><stop offset="1" stop-color="#bf94e8"/></linearGradient>
<linearGradient id="i6a" x1="0" x2="0" y1="0" y2="1"><stop offset="0" stop-color="#bb88e6"/><stop offset="0.45" stop-color="#ad8ee6"/><stop offset="1" stop-color="#7cb8f0"/></linearGradient>
</defs>
<!-- tablet -->
<rect x="1188.5" y="330.9" width="73.1" height="105.6" rx="4.4" fill="url(#i6d)" stroke="#4a1d82" stroke-width="2.2"/>
<rect x="1194.9" y="342.7" width="61.3" height="79.6" fill="#f0e8fb" stroke="#4a1d82" stroke-width="2.0"/>
<circle cx="1224.7" cy="336.1" r="1.1" fill="#4a1d82"/>
<circle cx="1224.7" cy="429.4" r="2.6" fill="#f3ecfc" stroke="#4a1d82" stroke-width="1.6"/>
<circle cx="1224.7" cy="372.2" r="13.2" fill="url(#i6c)" stroke="#4a1d82" stroke-width="1.8"/>
<path d="M1219.0 372.5L1223.0 376.6L1231.5 368.1" fill="none" stroke="#4a1d82" stroke-width="2.3" stroke-linecap="round" stroke-linejoin="round"/>
<path d="M1211.2 396.7H1233.7M1211.2 403.1H1238.8M1211.2 409.7H1238.8" stroke="#4a1d82" stroke-width="1.9" stroke-linecap="round"/>
<!-- phone -->
<rect x="1164.5" y="359.6" width="40.8" height="76.8" rx="4.6" fill="url(#i6d)" stroke="#4a1d82" stroke-width="2.2"/>
<path d="M1164.5 369.3H1205.3V426.3H1164.5Z" fill="#f1e9fb" stroke="#4a1d82" stroke-width="1.9"/>
<path d="M1182.4 364.2H1190.5" stroke="#4a1d82" stroke-width="1.7" stroke-linecap="round"/>
<circle cx="1178.7" cy="364.2" r="0.9" fill="#4a1d82"/>
<path d="M1180.7 431.1H1188.9" stroke="#4a1d82" stroke-width="1.7" stroke-linecap="round"/>
<circle cx="1185.1" cy="397.6" r="12.2" fill="url(#i6c)" stroke="#4a1d82" stroke-width="1.8"/>
<path d="M1179.2 397.6L1183.1 401.4L1191.1 393.5" fill="none" stroke="#4a1d82" stroke-width="2.3" stroke-linecap="round" stroke-linejoin="round"/>
<!-- up arrow -->
<path d="M1257.6 375.5L1274.8 399.6H1265.0V436.0H1250.3V399.6H1240.5Z" fill="url(#i6a)" stroke="#4a1d82" stroke-width="1.9" stroke-linejoin="round"/>
</g>
<text x="155.54" y="541.5" text-anchor="middle" font-size="28.3" letter-spacing="0.47" fill="#1d2436" stroke="#1d2436" stroke-width="0.25">Raw Idea</text>
<text x="368.41" y="541.5" text-anchor="middle" font-size="28.3" letter-spacing="-0.18" fill="#1d2436" stroke="#1d2436" stroke-width="0.25">AI</text>
<text x="369.07" y="575.3" text-anchor="middle" font-size="28.3" letter-spacing="1.15" fill="#1d2436" stroke="#1d2436" stroke-width="0.25">Interrogation</text>
<text x="582.86" y="541.5" text-anchor="middle" font-size="28.3" letter-spacing="0.91" fill="#1d2436" stroke="#1d2436" stroke-width="0.25">5-Layer</text>
<text x="582.93" y="575.3" text-anchor="middle" font-size="28.3" letter-spacing="1.07" fill="#1d2436" stroke="#1d2436" stroke-width="0.25">Structured</text>
<text x="583.08" y="609.1" text-anchor="middle" font-size="28.3" letter-spacing="1.37" fill="#1d2436" stroke="#1d2436" stroke-width="0.25">Prompt</text>
<text x="793.35" y="541.5" text-anchor="middle" font-size="28.3" letter-spacing="0.69" fill="#1d2436" stroke="#1d2436" stroke-width="0.25">Red Team</text>
<text x="793.25" y="575.3" text-anchor="middle" font-size="28.3" letter-spacing="0.49" fill="#1d2436" stroke="#1d2436" stroke-width="0.25">Review</text>
<text x="1007.00" y="541.5" text-anchor="middle" font-size="28.3" letter-spacing="0.8" fill="#1d2436" stroke="#1d2436" stroke-width="0.25">Vibe Coding</text>
<text x="1006.96" y="575.3" text-anchor="middle" font-size="28.3" letter-spacing="0.72" fill="#1d2436" stroke="#1d2436" stroke-width="0.25">Session</text>
<text x="1219.71" y="541.5" text-anchor="middle" font-size="28.3" letter-spacing="1.01" fill="#1d2436" stroke="#1d2436" stroke-width="0.25">Deployed</text>
<text x="1219.96" y="575.3" text-anchor="middle" font-size="28.3" letter-spacing="1.52" fill="#1d2436" stroke="#1d2436" stroke-width="0.25">App</text>
</g>
</svg>
</body></html>
